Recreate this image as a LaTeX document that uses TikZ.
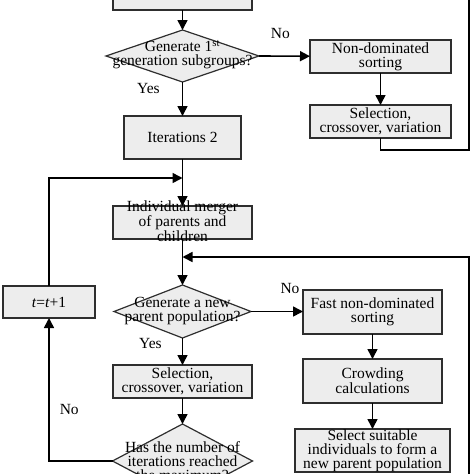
\documentclass[tikz,border=0pt]{standalone}
\usepackage{fontspec}
\setmainfont{Liberation Serif}
\usetikzlibrary{shapes.geometric,arrows.meta}
\definecolor{boxgray}{HTML}{EDEDED}
\definecolor{edgegray}{HTML}{2E2E2E}
\tikzset{
  stepbox/.style={draw=edgegray, line width=1.2pt, fill=boxgray, inner sep=0pt, outer sep=0pt, align=center},
  decision/.style={diamond, draw=edgegray, line width=1.2pt, fill=boxgray, inner sep=0pt, outer sep=0pt},
  txt/.style={align=center, inner sep=0pt},
  lbl/.style={inner sep=0pt},
  flow/.style={line width=1.6pt, -{Triangle[length=10pt,width=10pt]}},
  plain/.style={line width=1.6pt}
}
\begin{document}
\begin{tikzpicture}[x=1pt, y=-1pt, font=\fontsize{15.5}{14}\selectfont]
            \useasboundingbox (0,0) rectangle (474,474);
            \clip (0,0) rectangle (474,474);

            % first generation
            \node[stepbox, minimum width=139pt, minimum height=36pt] (start) at (182.5,-8) {};
            \node[decision, minimum width=153pt, minimum height=52pt] (gen1) at (182.5,56) {};
            \node[txt] (gen1txt) at (182.5,55) {Generate 1\textsuperscript{st}\\generation subgroups?};
            \node[stepbox, minimum width=141pt, minimum height=33pt] (nds) at (380.5,56.5) {Non-dominated\\sorting};
            \node[stepbox, minimum width=141pt, minimum height=33pt] (sel1) at (380.5,121.5) {Selection,\\crossover, variation};
            \node[stepbox, minimum width=117pt, minimum height=43pt] (iter2) at (182.5,137.5) {Iterations 2};
            \coordinate (loop1) at (469,150);
            \coordinate (top1) at (469,-20);

            % main loop
            \node[stepbox, minimum width=139pt, minimum height=33pt] (merge) at (182.5,222.5) {};
            \node[txt] (mergetxt) at (182.5,221) {Individual merger\\of parents and\\children};
            \node[stepbox, minimum width=92pt, minimum height=32pt] (tinc) at (49,302) {\textit{t}=\textit{t}+1};
            \node[decision, minimum width=137pt, minimum height=53pt] (gen2) at (182.5,311.5) {};
            \node[txt] (gen2txt) at (gen2) {Generate a new\\parent population?};
            \node[stepbox, minimum width=139pt, minimum height=44pt] (fnds) at (372.5,312) {Fast non-dominated\\sorting};
            \node[stepbox, minimum width=139pt, minimum height=44pt] (crowd) at (372.5,381) {Crowding\\calculations};
            \node[stepbox, minimum width=155pt, minimum height=43pt] (selnew) at (372.5,450.5) {Select suitable\\individuals to form a\\new parent population};
            \node[stepbox, minimum width=139pt, minimum height=33pt] (sel2) at (182.5,381.5) {Selection,\\crossover, variation};
            \node[decision, minimum width=140pt, minimum height=74pt] (maxq) at (182.5,461) {};
            \node[txt] (maxqtxt) at (maxq) {Has the number of\\iterations reached\\the maximum?};
            \coordinate (back1) at (48,178);
            \coordinate (join1) at (182.5,178);
            \coordinate (back2) at (469,257);
            \coordinate (join2) at (182.5,257);
            \coordinate (bottom2) at (469,490);

            \draw[flow] (start) to (gen1);
            \draw[flow] (gen1.east) to node[lbl, pos=0.42, above=17pt] {No} (nds);
            \draw[flow] (nds) to (sel1);
            \draw[plain] (sel1.south) |- (loop1) -- (top1);
            \draw[flow] (gen1.south) to node[lbl, pos=0.2, left=22pt] {Yes} (iter2);
            \draw[flow] (iter2) to (merge);
            \draw[flow] (tinc.north) |- (join1);
            \draw[flow] (merge) to (gen2);
            \draw[flow] (bottom2) -- (back2) -- (join2);
            \draw[flow] (gen2.east) to node[lbl, pos=0.75, above=17pt] {No} (fnds.west |- gen2);
            \draw[flow] (fnds) to (crowd);
            \draw[flow] (crowd) to (selnew);
            \draw[flow] (gen2.south) to node[lbl, pos=0.2, left=20pt] {Yes} (sel2);
            \draw[flow] (sel2) to (maxq);
            \draw[flow] (maxq.west) -| node[lbl, pos=0.68, right=10pt] {No} (tinc.south);
        \end{tikzpicture}
\end{document}
